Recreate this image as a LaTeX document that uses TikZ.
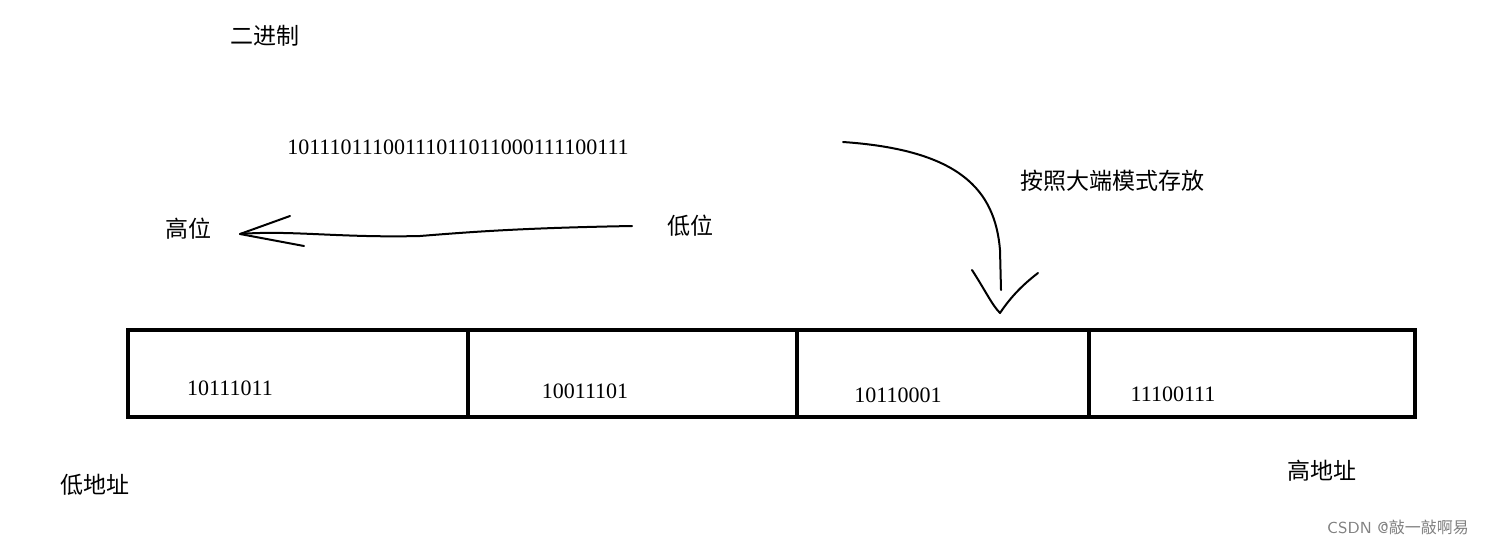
\documentclass[tikz,border=0pt]{standalone}
\usepackage{fontspec}
\setmainfont{Liberation Serif}
\newfontfamily\cjk{Noto Sans CJK SC}
\begin{document}
\begin{tikzpicture}
        [x=0.5pt, y=-0.5pt,
        cell/.style={draw, line width=1.6pt, minimum height=43.5pt, inner sep=0pt},
        bits/.style={font=\fontsize{11}{13}\selectfont},
        label/.style={font=\cjk\fontsize{11.5}{14}\selectfont},
        pen/.style={line width=1pt, line cap=round, line join=round}]

        \useasboundingbox (0,0) rectangle (1498,546);

        % memory cells
        \node[cell, minimum width=170pt] (c1) at (298,373.5) {};
        \node[cell, minimum width=164.5pt] (c2) at (632.5,373.5) {};
        \node[cell, minimum width=146pt] (c3) at (943,373.5) {};
        \node[cell, minimum width=163pt] (c4) at (1252,373.5) {};

        \node[bits] (b1) at (230,388) {10111011};
        \node[bits] (b2) at (585,391) {10011101};
        \node[bits] (b3) at (898,395) {10110001};
        \node[bits] (b4) at (1173,394) {11100111};

        % labels
        \node[label] (bin) at (265,36) {二进制};
        \node[bits] (num) at (458,147) {10111011100111011011000111100111};
        \node[label] (hi) at (188,229) {高位};
        \node[label] (lo) at (690,226) {低位};
        \node[label] (big) at (1112,181) {按照大端模式存放};
        \node[label] (loaddr) at (95,485) {低地址};
        \node[label] (hiaddr) at (1322,471) {高地址};
        \node[font=\sffamily\fontsize{8}{10}\selectfont, text=gray] (mark) at (1398,527) {CSDN @\cjk 敲一敲啊易};

        % hand drawn arrows
        \coordinate (l0) at (632,226);
        \coordinate (l1) at (240,234);
        \coordinate (s0) at (843,142);
        \coordinate (s1) at (1000,313);
        \draw[pen] (l0) .. controls (520,228) and (470,232) .. (420,236)
            .. controls (340,238) and (290,230) .. (l1);
        \draw[pen] (290,216) -- (l1) -- (304,246);
        \draw[pen] (s0) .. controls (960,150) and (995,190) .. (1000,250) -- (1001,290);
        \draw[pen] (972,270) .. controls (985,290) and (992,305) .. (s1)
            .. controls (1012,295) and (1025,283) .. (1038,273);

\end{tikzpicture}
\end{document}
